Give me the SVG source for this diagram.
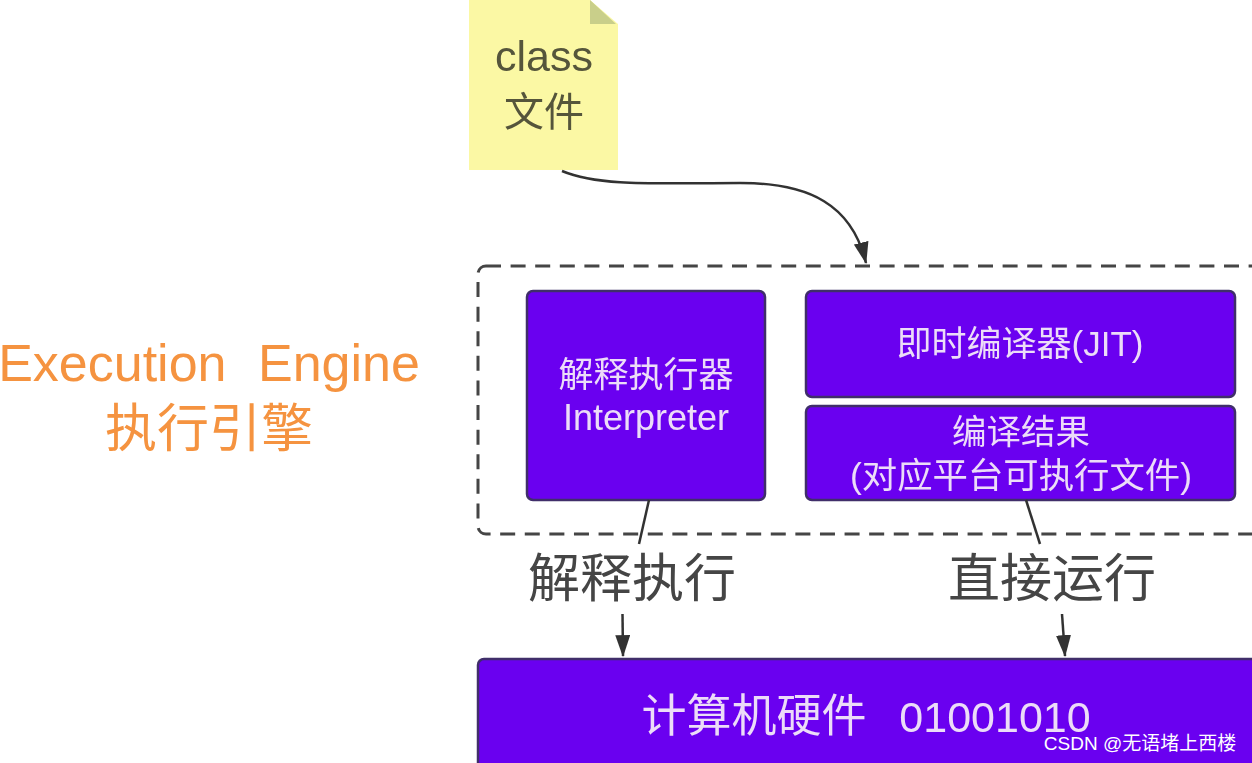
<svg xmlns="http://www.w3.org/2000/svg" width="1252" height="763" viewBox="0 0 1252 763">
<style>
text{font-family:"Liberation Sans","Noto Sans CJK SC",sans-serif;text-anchor:middle}
.box{fill:#6a00f0;stroke:#3f2f6a;stroke-width:2.5}
.w{fill:#ecdcf8}
.k{fill:#454545}
.o{fill:#f5933f}
.c{fill:none;stroke:#333;stroke-width:2.5}
</style>
<defs><marker id="b" viewBox="0 0 10 10" refX="9.5" refY="5" markerWidth="22" markerHeight="15" markerUnits="userSpaceOnUse" orient="auto" preserveAspectRatio="none"><path d="M0 0L10 5L0 10z" fill="#333"/></marker>
<filter id="soft" x="0" y="0" width="100%" height="100%"><feGaussianBlur stdDeviation="0.7"/></filter></defs>
<rect width="1252" height="763" fill="#fff"/>
<g filter="url(#soft)">
<g id="title"><text class="o" x="209" y="381" font-size="52" word-spacing="17">Execution Engine</text><text class="o" x="209" y="447" font-size="52">执行引擎</text></g>
<g id="class-file"><path d="M469 0H590L618 24V170H469z" fill="#fbf8a4"/><path d="M590 0L616 24H590z" fill="#c9cf8a"/><text x="544" y="71" font-size="43" fill="#55553a">class</text><text x="544" y="126" font-size="40" fill="#55553a">文件</text></g>
<g id="engine-border"><rect x="478" y="266" width="790" height="268" rx="8" fill="none" stroke="#444" stroke-width="3" stroke-dasharray="15 9.6"/></g>
<g id="interpreter"><rect class="box" x="527" y="291" width="238" height="209" rx="6"/><text class="w" x="646" y="387" font-size="35">解释执行器</text><text class="w" x="646" y="430" font-size="36">Interpreter</text></g>
<g id="jit"><rect class="box" x="806" y="291" width="429" height="106" rx="6"/><text class="w" x="1020" y="356" font-size="35">即时编译器(JIT)</text></g>
<g id="compiled"><rect class="box" x="806" y="406" width="429" height="94" rx="6"/><text class="w" x="1021" y="444" font-size="34.5">编译结果</text><text class="w" x="1021" y="488" font-size="35.4">(对应平台可执行文件)</text></g>
<g id="hardware"><rect class="box" x="478" y="659" width="790" height="120" rx="6"/><text class="w" x="754" y="732" font-size="45">计算机硬件</text><text class="w" x="995" y="732" font-size="43">01001010</text></g>
<g id="connectors">
<path class="c" marker-end="url(#b)" d="M562 171C600 187 660 183 740 183C810 183 852 205 866 263"/>
<path class="c" d="M649 500L639 544"/>
<path class="c" marker-end="url(#b)" d="M622.500 614L623 656"/>
<path class="c" d="M1026 500L1040 544"/>
<path class="c" marker-end="url(#b)" d="M1062 614L1065 656"/>
</g>
<g id="labels"><text class="k" x="632" y="597" font-size="52">解释执行</text><text class="k" x="1052" y="597" font-size="52">直接运行</text></g>
</g>
<g id="watermark"><text x="1140" y="750" font-size="19" fill="#fff">CSDN @无语堵上西楼</text></g>
</svg>
